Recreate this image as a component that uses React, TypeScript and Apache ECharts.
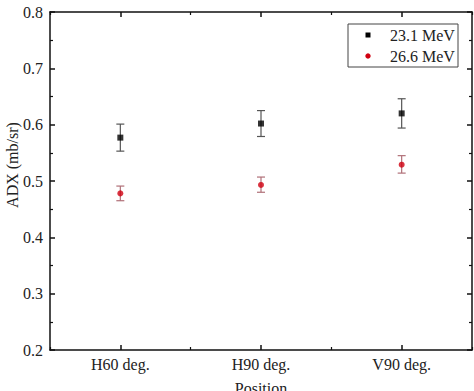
import React, { useEffect, useRef } from "react";
import * as echarts from "echarts";

const categories = ["H60 deg.", "H90 deg.", "V90 deg."];
const yTicks = [0.2, 0.3, 0.4, 0.5, 0.6, 0.7, 0.8];
const xAxisName = "Position";
const yAxisName = "ADX (mb/sr)";
const series231Name = "23.1 MeV";
const series231 = [0.577, 0.602, 0.620];
const series231Low = [0.553, 0.579, 0.594];
const series231High = [0.601, 0.625, 0.646];
const series266Name = "26.6 MeV";
const series266 = [0.478, 0.493, 0.529];
const series266Low = [0.465, 0.480, 0.514];
const series266High = [0.491, 0.507, 0.545];

const FONT = "'Liberation Serif', 'Times New Roman', serif";
const TXT = "#222";

function errorSeries(low: number[], high: number[], color: string) {
  return {
    type: "custom",
    xAxisIndex: 0,
    yAxisIndex: 0,
    z: 2,
    silent: true,
    data: low.map((l, i) => [i, l, high[i]]),
    renderItem: (params: any, api: any) => {
      const lo = api.coord([api.value(0), api.value(1)]);
      const hi = api.coord([api.value(0), api.value(2)]);
      const cap = 4;
      const style = { stroke: color, lineWidth: 1.2 };
      return {
        type: "group",
        children: [
          { type: "line", shape: { x1: lo[0], y1: lo[1], x2: hi[0], y2: hi[1] }, style },
          { type: "line", shape: { x1: lo[0] - cap, y1: lo[1], x2: lo[0] + cap, y2: lo[1] }, style },
          { type: "line", shape: { x1: hi[0] - cap, y1: hi[1], x2: hi[0] + cap, y2: hi[1] }, style },
        ],
      };
    },
  };
}

export default function App() {
  const ref = useRef<HTMLDivElement>(null);
  useEffect(() => {
    if (!ref.current) return;
    const chart = echarts.init(ref.current, undefined, { renderer: "svg" });
    const axisLine = { show: true, lineStyle: { color: "#111", width: 1.5 } };
    const catBase = (pos: "bottom" | "top") => ({
      type: "category",
      position: pos,
      data: categories,
      axisLine,
      splitLine: { show: false },
    });
    chart.setOption({
      animation: false,
      backgroundColor: "#fff",
      textStyle: { fontFamily: FONT },
      grid: { left: 50, right: 2, top: 12, bottom: 41, containLabel: false, outerBoundsMode: "none" },
      xAxis: [
        {
          ...catBase("bottom"),
          name: xAxisName,
          nameLocation: "middle",
          nameGap: 30,
          nameTextStyle: { fontFamily: FONT, fontSize: 16, color: TXT },
          axisTick: { show: true, inside: true, alignWithLabel: true, length: 5, lineStyle: { color: "#111", width: 1.5 } },
          axisLabel: { show: true, margin: 6, fontFamily: FONT, fontSize: 16, color: TXT },
        },
        {
          ...catBase("bottom"),
          axisLine: { show: false },
          axisTick: { show: true, inside: true, alignWithLabel: false, length: 3, lineStyle: { color: "#111", width: 1.2 } },
          axisLabel: { show: false },
        },
        {
          ...catBase("top"),
          axisTick: { show: true, inside: true, alignWithLabel: true, length: 5, lineStyle: { color: "#111", width: 1.5 } },
          axisLabel: { show: false },
        },
        {
          ...catBase("top"),
          axisLine: { show: false },
          axisTick: { show: true, inside: true, alignWithLabel: false, length: 3, lineStyle: { color: "#111", width: 1.2 } },
          axisLabel: { show: false },
        },
      ],
      yAxis: [
        {
          type: "value",
          position: "left",
          min: yTicks[0],
          max: yTicks[yTicks.length - 1],
          interval: 0.1,
          axisLine,
          axisTick: { show: true, inside: true, length: 5, lineStyle: { color: "#111", width: 1.5 } },
          minorTick: { show: true, splitNumber: 2, length: 3, lineStyle: { color: "#111", width: 1.2 } },
          splitLine: { show: false },
          minorSplitLine: { show: false },
          axisLabel: {
            margin: 7,
            fontFamily: FONT,
            fontSize: 16,
            color: TXT,
            formatter: (v: number) => v.toFixed(1),
          },
        },
        {
          type: "value",
          position: "right",
          min: yTicks[0],
          max: yTicks[yTicks.length - 1],
          interval: 0.1,
          axisLine,
          axisTick: { show: true, inside: true, length: 5, lineStyle: { color: "#111", width: 1.5 } },
          minorTick: { show: true, splitNumber: 2, length: 3, lineStyle: { color: "#111", width: 1.2 } },
          splitLine: { show: false },
          axisLabel: { show: false },
        },
      ],
      series: [
        errorSeries(series231Low, series231High, "#555"),
        errorSeries(series266Low, series266High, "#b07078"),
        {
          name: series231Name,
          type: "scatter",
          xAxisIndex: 0,
          yAxisIndex: 0,
          symbol: "rect",
          symbolSize: 6,
          z: 5,
          itemStyle: { color: "#000" },
          data: series231,
        },
        {
          name: series266Name,
          type: "scatter",
          xAxisIndex: 0,
          yAxisIndex: 0,
          symbol: "circle",
          symbolSize: 6,
          z: 5,
          itemStyle: { color: "#d00010" },
          data: series266,
        },
      ],
      graphic: [
        {
          type: "text",
          x: 12,
          y: 165,
          rotation: Math.PI / 2,
          style: { text: yAxisName, fontFamily: FONT, fontSize: 16, fill: TXT, align: "center", verticalAlign: "middle" },
        },
        {
          type: "rect",
          shape: { x: 348, y: 24, width: 110, height: 43 },
          style: { fill: "#fff", stroke: "#444", lineWidth: 1 },
          z: 10,
        },
        {
          type: "rect",
          shape: { x: 365.5, y: 32.5, width: 5, height: 5 },
          style: { fill: "#000" },
          z: 11,
        },
        {
          type: "circle",
          shape: { cx: 368, cy: 56, r: 2.7 },
          style: { fill: "#d00010" },
          z: 11,
        },
        {
          type: "text",
          x: 390,
          y: 35,
          style: { text: series231Name, fontFamily: FONT, fontSize: 16, fill: TXT, verticalAlign: "middle", align: "left" },
          z: 11,
        },
        {
          type: "text",
          x: 390,
          y: 56,
          style: { text: series266Name, fontFamily: FONT, fontSize: 16, fill: TXT, verticalAlign: "middle", align: "left" },
          z: 11,
        },
      ],
    });
    return () => chart.dispose();
  }, []);
  return <div ref={ref} style={{ position: "fixed", left: 0, top: 0, width: 474, height: 391 }} />;
}
